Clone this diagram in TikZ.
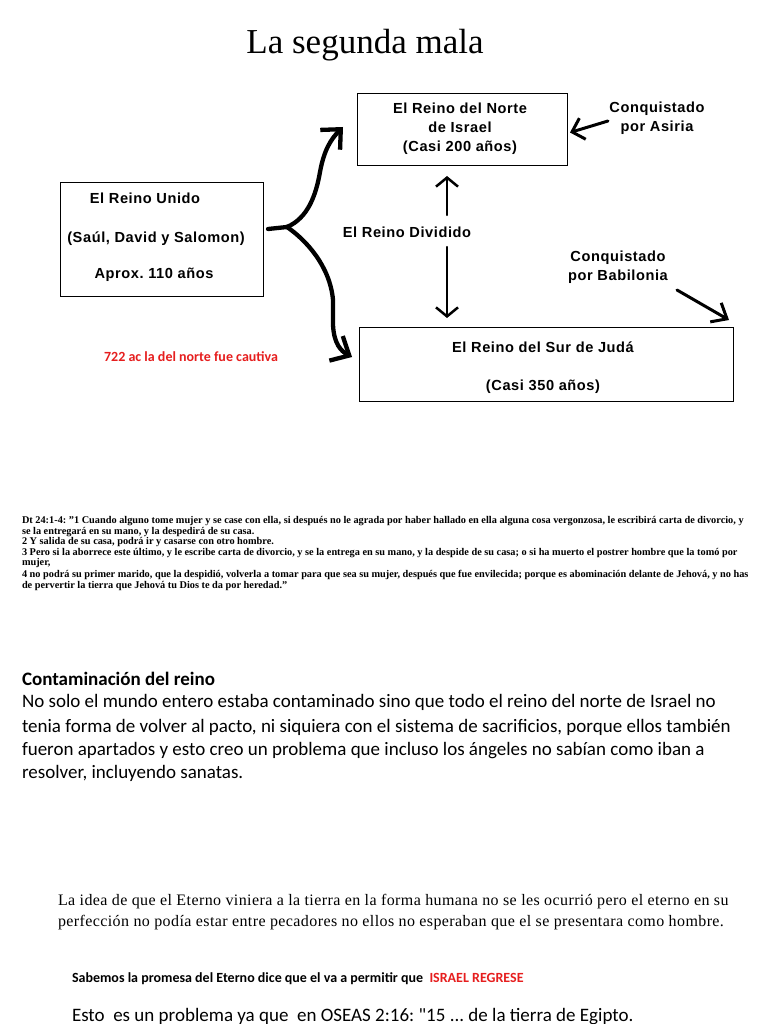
\documentclass[tikz,border=0pt]{standalone}
\usepackage{fontspec}
\setmainfont{Liberation Serif}
\newfontfamily\boxfont[LetterSpace=4]{Liberation Sans}
\newfontfamily\calfont{Carlito}
\newfontfamily\ideafont[LetterSpace=2.5]{Liberation Serif}
\usetikzlibrary{arrows.meta,calc}
\definecolor{redtxt}{RGB}{230,30,30}
\frenchspacing
\begin{document}
\begin{tikzpicture}[x=1pt,y=-1pt,
  txt/.style={inner sep=0pt, outer sep=0pt},
  sans/.style={txt, anchor=base, font=\boxfont\bfseries\fontsize{14.6}{17}\selectfont},
  kbox/.style={draw, line width=1pt, inner sep=0pt, anchor=north west},
  bigline/.style={line width=4.3pt, line cap=round, line join=round, -{Straight Barb[length=15pt,width=28pt,line width=4.3pt]}},
  medline/.style={line width=2.5pt, line cap=round, -{Straight Barb[length=9pt,width=22pt]}},
  dtline/.style={txt, anchor=base west, font=\bfseries\fontsize{10.3}{12}\selectfont},
  para/.style={txt, anchor=base west, font=\calfont\fontsize{19}{22}\selectfont},
  idea/.style={txt, anchor=base west, font=\ideafont\fontsize{16}{19}\selectfont}
]
\useasboundingbox[fill=white] (0,0) rectangle (768,1024);

% title
\node[txt, anchor=base, font=\fontsize{35}{40}\selectfont] (title) at (365,54) {La segunda mala};

% boxes
\node[kbox, minimum width=203pt, minimum height=114pt] (unido) at (60,182) {};
\node[kbox, minimum width=210pt, minimum height=72pt] (norte) at (357,93) {};
\node[kbox, minimum width=374pt, minimum height=74pt] (sur) at (359,327) {};

\node[sans] (u1) at (145,204) {El Reino Unido};
\node[sans] (u2) at (156,242) {(Saúl, David y Salomon)};
\node[sans] (u3) at (154,278) {Aprox. 110 años};

\node[sans] (n1) at (460,114) {El Reino del Norte};
\node[sans] (n2) at (460,133) {de Israel};
\node[sans] (n3) at (460,152) {(Casi 200 años)};

\node[sans] (s1) at (543,352) {El Reino del Sur de Judá};
\node[sans] (s2) at (543,390) {(Casi 350 años)};

\node[sans] (div) at (407,237) {El Reino Dividido};
\node[sans] (as1) at (657,113) {Conquistado};
\node[sans] (as2) at (657,132) {por Asiria};
\node[sans] (bb1) at (618,261) {Conquistado};
\node[sans] (bb2) at (618,280) {por Babilonia};

\node[txt, anchor=base, text=redtxt, font=\calfont\bfseries\fontsize{14}{16}\selectfont] (cautiva) at (191,361) {722 ac la del norte fue cautiva};

% curly arrows
\coordinate (br) at (287,227);
\coordinate (ntip) at (343,127);
\coordinate (stip) at (352,357);
\draw[line width=4.3pt, line cap=round] (unido.east |- br) ++(4,2) -- (br);
\draw[bigline] (br) .. controls (308,218) and (316,195) .. (320,172) .. controls (324,150) and (331,139) .. (ntip);
\draw[bigline] (br) .. controls (306,240) and (330,266) .. (333,300) -- (333,325) .. controls (334,344) and (341,351) .. (stip);

% vertical arrows
\coordinate (up0) at (447,215);
\coordinate (dn0) at (447,247);
\draw[medline, shorten >=10pt] (up0) -- (up0 |- norte.south);
\draw[medline, shorten >=9pt] (dn0) -- (dn0 |- sur.north);

% conquest arrows
\coordinate (asA) at (608,121);
\coordinate (bbA) at (677,290);
\draw[line width=3pt, line cap=round, -{Straight Barb[length=11pt,width=22pt]}] (asA) -- ($(norte.east)+(2,3)$);
\draw[line width=3pt, line cap=round, -{Straight Barb[length=13pt,width=22pt]}] (bbA) -- ($(sur.north east)+(-5,-7)$);

% Deuteronomy text
\node[dtline] (dt1) at (22,523) {Dt 24:1-4: "1 Cuando alguno tome mujer y se case con ella, si después no le agrada por haber hallado en ella alguna cosa vergonzosa, le escribirá carta de divorcio, y};
\node[dtline] (dt2) at (22,534) {se la entregará en su mano, y la despedirá de su casa.};
\node[dtline] (dt3) at (22,544) {2 Y salida de su casa, podrá ir y casarse con otro hombre.};
\node[dtline] (dt4) at (22,555) {3 Pero si la aborrece este último, y le escribe carta de divorcio, y se la entrega en su mano, y la despide de su casa; o si ha muerto el postrer hombre que la tomó por};
\node[dtline] (dt5) at (22,565) {mujer,};
\node[dtline] (dt6) at (22,577) {4 no podrá su primer marido, que la despidió, volverla a tomar para que sea su mujer, después que fue envilecida; porque es abominación delante de Jehová, y no has};
\node[dtline] (dt7) at (22,588) {de pervertir la tierra que Jehová tu Dios te da por heredad."};

% Contaminacion
\node[txt, anchor=base west, font=\calfont\bfseries\fontsize{19}{22}\selectfont] (cont) at (22,685) {Contaminación del reino};
\node[para] (p1) at (22,707) {No solo el mundo entero estaba contaminado sino que todo el reino del norte de Israel no};
\node[para] (p2) at (22,732) {tenia forma de volver al pacto, ni siquiera con el sistema de sacrificios, porque ellos también};
\node[para] (p3) at (22,755) {fueron apartados y esto creo un problema que incluso los ángeles no sabían como iban a};
\node[para] (p4) at (22,778) {resolver, incluyendo sanatas.};

% idea
\node[idea] (i1) at (58,905) {La idea de que el Eterno viniera a la tierra en la forma humana no se les ocurrió pero el eterno en su};
\node[idea] (i2) at (58,926) {perfección no podía estar entre pecadores no ellos no esperaban que el se presentara como hombre.};

\node[txt, anchor=base west, font=\calfont\bfseries\fontsize{14}{16}\selectfont] (sab) at (72,982) {Sabemos la promesa del Eterno dice que el va a permitir que\ \ \textcolor{redtxt}{ISRAEL REGRESE}};
\node[para] (esto) at (72,1021) {Esto\ \ es un problema ya que\ \ en OSEAS 2:16: "15 ... de la tierra de Egipto.};
\end{tikzpicture}
\end{document}
